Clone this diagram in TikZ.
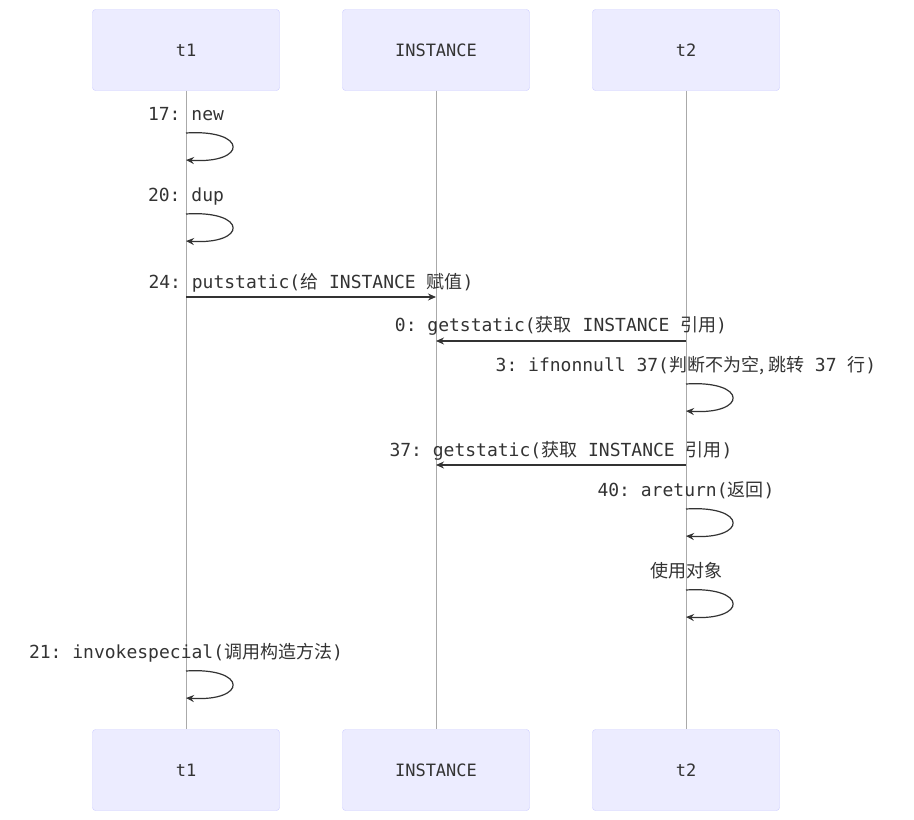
\documentclass[tikz,border=0pt]{standalone}
\usepackage{fontspec}
\setmonofont{DejaVu Sans Mono}
\setsansfont{DejaVu Sans}
\newfontfamily\cjk{Noto Sans CJK SC}
\usetikzlibrary{arrows.meta}
\definecolor{boxfill}{HTML}{ECECFF}
\definecolor{boxline}{HTML}{CCCCFF}
\definecolor{txt}{HTML}{333333}
\definecolor{life}{HTML}{AAAAAA}
\tikzset{
 actor/.style={draw=boxline,fill=boxfill,rounded corners=3pt,minimum width=187pt,minimum height=81pt,font=\ttfamily\fontsize{17}{20}\selectfont,text=txt},
 msg/.style={font=\ttfamily\fontsize{18}{21}\selectfont,text=txt,anchor=base},
 arr/.style={draw=txt,line width=1.2pt,-{Stealth[length=8pt,width=7pt]}},
 lifeline/.style={draw=life,line width=0.6pt}
}
\begin{document}
\begin{tikzpicture}[x=1pt,y=-1pt]
\useasboundingbox (0,0) rectangle (914,820);
\node[actor] (t1) at (186,50) {t1};
\node[actor] (in) at (436,50) {INSTANCE};
\node[actor] (t2) at (686,50) {t2};
\node[actor] (t1b) at (186,770) {t1};
\node[actor] (inb) at (436,770) {INSTANCE};
\node[actor] (t2b) at (686,770) {t2};
\draw[lifeline] (t1) -- (t1b);
\draw[lifeline] (in) -- (inb);
\draw[lifeline] (t2) -- (t2b);
% self loops
\newcommand\selfloop[5]{%
 \coordinate (#1a) at (#2,#3);
 \coordinate (#1b) at (#2,#3+27);
 \draw[arr] (#1a) .. controls (#2+62,#3-4) and (#2+62,#3+31) .. (#1b);
 \node[msg] (#1l) at (#2+#4,#3-13) {#5};}
\selfloop{n}{186}{133}{0}{17: new}
\selfloop{d}{186}{214}{0}{20: dup}
\node[msg] (pl) at (311,288) {24: putstatic({\cjk 给} INSTANCE {\cjk 赋值})};
\coordinate (p1) at (186,297); \coordinate (p2) at (436,297);
\draw[arr] (p1) -- (p2);
\node[msg] (gl) at (561,331) {0: getstatic({\cjk 获取} INSTANCE {\cjk 引用})};
\coordinate (g1) at (686,341); \coordinate (g2) at (436,341);
\draw[arr] (g1) -- (g2);
\selfloop{i}{686}{384}{0}{3: ifnonnull 37({\cjk 判断不为空, 跳转} 37 {\cjk 行})}
\node[msg] (hl) at (561,456) {37: getstatic({\cjk 获取} INSTANCE {\cjk 引用})};
\coordinate (h1) at (686,465); \coordinate (h2) at (436,465);
\draw[arr] (h1) -- (h2);
\selfloop{r}{686}{509}{0}{40: areturn({\cjk 返回})}
\selfloop{u}{686}{590}{0}{\cjk 使用对象}
\selfloop{v}{186}{671}{0}{21: invokespecial({\cjk 调用构造方法})}
\end{tikzpicture}
\end{document}
